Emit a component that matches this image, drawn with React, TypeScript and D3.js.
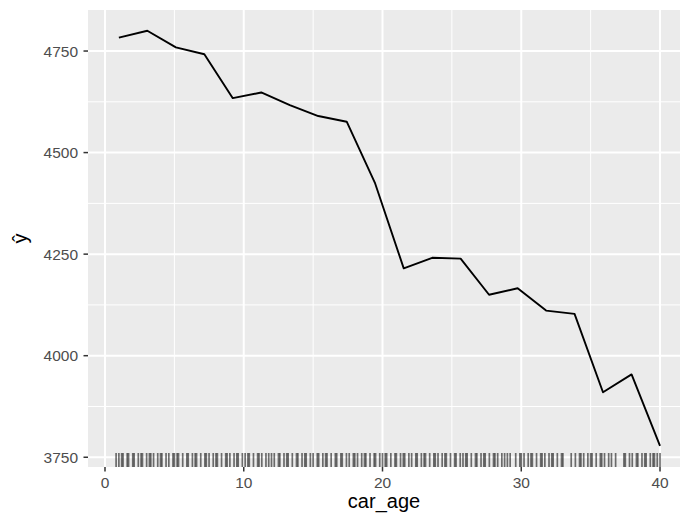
import React from "react";
import * as d3 from "d3";

const carAge = [1, 3.05, 5.11, 7.16, 9.21, 11.26, 13.32, 15.37, 17.42, 19.47, 21.53, 23.58, 25.63, 27.68, 29.74, 31.79, 33.84, 35.89, 37.95, 40];
const yhat = [4783, 4800, 4759, 4742, 4634, 4648, 4617, 4590, 4576, 4424, 4215, 4241, 4239, 4150, 4166, 4111, 4103, 3910, 3954, 3778];

const rugAges = [
  0.8, 1.0, 1.2, 1.3, 1.6, 1.7, 2.0, 2.1, 2.4, 2.6, 2.7, 3.0, 3.2, 3.3, 3.5, 3.8, 4.0, 4.1, 4.4, 4.6, 4.9, 5.0, 5.2, 5.3, 5.6, 5.9,
  6.0, 6.3, 6.5, 6.6, 6.9, 7.2, 7.3, 7.5, 7.8, 8.0, 8.1, 8.4, 8.7, 8.8, 9.0, 9.3, 9.5, 9.6, 9.9, 10.1, 10.3, 10.4, 10.7, 11.0,
  11.1, 11.3, 11.6, 11.8, 12.0, 12.2, 12.5, 12.6, 12.9, 13.1, 13.2, 13.5, 13.8, 13.9, 14.2, 14.4, 14.5, 14.8, 15.0, 15.3, 15.4,
  15.7, 15.9, 16.0, 16.3, 16.6, 16.7, 17.0, 17.1, 17.4, 17.6, 17.9, 18.0, 18.2, 18.5, 18.7, 18.8, 19.1, 19.4, 19.5, 19.8, 20.0,
  20.2, 20.3, 20.6, 20.9, 21.0, 21.3, 21.5, 21.6, 21.9, 22.1, 22.4, 22.5, 22.8, 23.0, 23.1, 23.4, 23.7, 23.8, 24.0, 24.3, 24.5,
  24.6, 24.9, 25.2, 25.3, 25.6, 25.8, 26.0, 26.1, 26.4, 26.7, 26.8, 27.1, 27.3, 27.4, 27.7, 28.0, 28.1, 28.3, 28.6, 28.8, 29.0,
  29.2, 29.6, 29.9, 30.0, 30.2, 30.5, 30.7, 30.8, 31.1, 31.4, 31.5, 31.7, 32.0, 32.2, 32.3, 32.6, 32.9, 33.0, 33.6, 33.9,
  34.2, 34.3, 34.5, 34.8, 35.0, 35.1, 35.4, 35.7, 35.8, 36.0, 36.3, 36.5, 36.8, 37.4, 37.5, 37.8, 38.0, 38.3, 38.4,
  38.7, 38.9, 39.0, 39.3, 39.5, 39.6, 39.8, 40.0,
];

const xTicks = [0, 10, 20, 30, 40];
const xMinor = [5, 15, 25, 35];
const yTicks = [3750, 4000, 4250, 4500, 4750];
const yMinor = [3875, 4125, 4375, 4625];

export default function App() {
  const W = 700, H = 525;
  const left = 88, right = 680, top = 10, bottom = 467;
  const x = d3.scaleLinear().domain([-1.225, 41.44]).range([left, right]);
  const y = d3.scaleLinear().domain([3726, 4851]).range([bottom, top]);
  const line = d3.line<number>().x((_, i) => x(carAge[i])).y((d) => y(d));
  const font = "'Liberation Sans', Arial, sans-serif";
  const rugLen = 14;
  return (
    <svg width={W} height={H} style={{ position: "absolute", left: 0, top: 0, background: "#fff" }}>
      <rect x={left} y={top} width={right - left} height={bottom - top} fill="#EBEBEB" />
      {xMinor.map((t) => (
        <line key={"xm" + t} x1={x(t)} x2={x(t)} y1={top} y2={bottom} stroke="#fff" strokeWidth={1} />
      ))}
      {yMinor.map((t) => (
        <line key={"ym" + t} x1={left} x2={right} y1={y(t)} y2={y(t)} stroke="#fff" strokeWidth={1} />
      ))}
      {xTicks.map((t) => (
        <line key={"xg" + t} x1={x(t)} x2={x(t)} y1={top} y2={bottom} stroke="#fff" strokeWidth={2} />
      ))}
      {yTicks.map((t) => (
        <line key={"yg" + t} x1={left} x2={right} y1={y(t)} y2={y(t)} stroke="#fff" strokeWidth={2} />
      ))}
      {rugAges.map((a, i) => (
        <line key={"r" + i} x1={x(a)} x2={x(a)} y1={bottom} y2={bottom - rugLen} stroke="#000" strokeOpacity={0.55} strokeWidth={1.7} />
      ))}
      <path d={line(yhat) || ""} fill="none" stroke="#000" strokeWidth={1.9} strokeLinejoin="round" />
      {xTicks.map((t) => (
        <g key={"xt" + t}>
          <line x1={x(t)} x2={x(t)} y1={bottom} y2={bottom + 4.5} stroke="#333" strokeWidth={1.5} />
          <text x={x(t)} y={488} textAnchor="middle" fontFamily={font} fontSize={15.5} fill="#4D4D4D">{t}</text>
        </g>
      ))}
      {yTicks.map((t) => (
        <g key={"yt" + t}>
          <line x1={left - 4.5} x2={left} y1={y(t)} y2={y(t)} stroke="#333" strokeWidth={1.5} />
          <text x={78} y={y(t)} dy="0.36em" textAnchor="end" fontFamily={font} fontSize={15.5} fill="#4D4D4D">{t}</text>
        </g>
      ))}
      <text x={(left + right) / 2} y={508} textAnchor="middle" fontFamily={font} fontSize={20} fill="#000">car_age</text>
      <text transform={`translate(27,${(top + bottom) / 2}) rotate(-90)`} textAnchor="middle" fontFamily={font} fontSize={20} fill="#000">ŷ</text>
    </svg>
  );
}
